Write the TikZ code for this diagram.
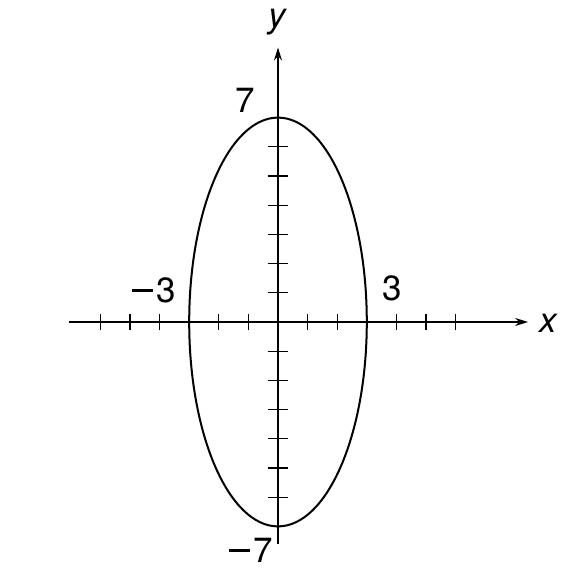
\documentclass[tikz,border=0pt]{standalone}
\usepackage{fontspec}
\setmainfont{TeX Gyre Heros}
\usetikzlibrary{arrows.meta}
\newcommand{\mymin}{\rule[0.3em]{0.6em}{0.07em}\hspace{0.08em}}
\begin{document}
\begin{tikzpicture}[x=29.6pt,y=29.2pt,
  axis/.style={line width=1.6pt,-{Stealth[length=13pt,width=8pt]}},
  tick/.style={line width=1.1pt},
  lbl/.style={font=\fontsize{35}{37}\selectfont,inner sep=0pt}]
\useasboundingbox (-278pt,-259pt) rectangle (304pt,322pt);
\fill[white] (-278pt,-259pt) rectangle (304pt,322pt);
\coordinate (xl) at (-7.05,0);
\coordinate (xr) at (8.45,0);
\coordinate (yb) at (0,-7.6);
\coordinate (yt) at (0,9.4);
\draw[axis] (xl) -- (xr);
\draw[axis] (yb) -- (yt);
\foreach \i in {-6,...,-1,1,2,...,6} \draw[tick] (\i,-8pt) -- (\i,8pt);
\foreach \i in {-6,...,-1,1,2,...,6} \draw[tick] (-10pt,\i) -- (10pt,\i);
\draw[line width=2pt] (0,0) ellipse (3 and 7);
\node[lbl,font=\fontsize{35}{37}\selectfont\itshape] (xlab) at (270pt,-1pt) {x};
\node[lbl,font=\fontsize{35}{37}\selectfont\itshape] (ylab) at (-1pt,300pt) {y};
\node[lbl] (l7) at (-33pt,222pt) {7};
\node[lbl] (lm7) at (-27pt,-228pt) {\mymin7};
\node[lbl] (lm3) at (-124pt,32pt) {\mymin3};
\node[lbl] (l3) at (114pt,34pt) {3};
\end{tikzpicture}
\end{document}
